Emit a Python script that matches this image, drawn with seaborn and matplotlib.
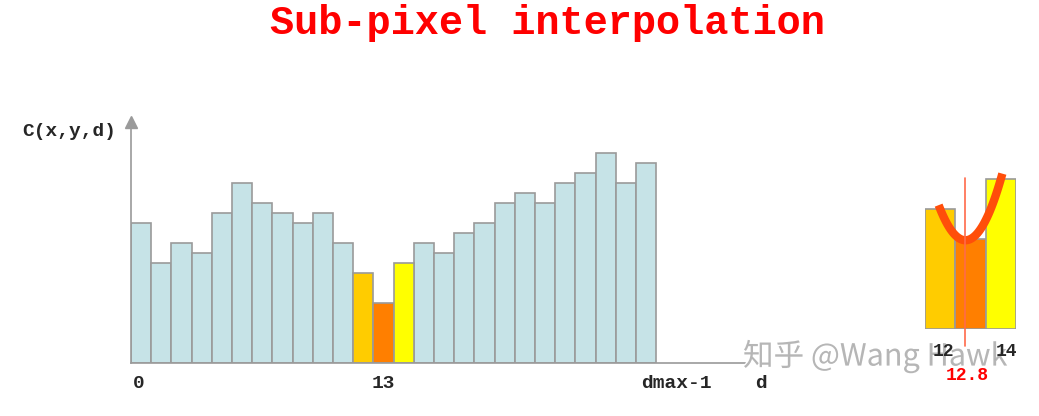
import numpy as np
import pandas as pd
import matplotlib
matplotlib.use('Agg')
import matplotlib.pyplot as plt
import matplotlib.patheffects as pe
import seaborn as sns

# matching cost per disparity
cost = [14, 10, 12, 11, 15, 18, 16, 15, 14, 15, 12, 9, 6, 10,
        12, 11, 13, 14, 16, 17, 16, 18, 19, 21, 18, 20]
# which bars are highlighted around the minimum
group = ['base'] * 11 + ['left', 'min', 'right'] + ['base'] * 12
# close-up of the three bars at the minimum
zoom_d = ['12', '13', '14']
zoom_cost = [8, 6, 10]
zoom_group = ['left', 'min', 'right']

palette = {'base': '#C6E3E7', 'left': '#FFCC00', 'min': '#FF7F00', 'right': '#FFFF00'}
edge = '#9A9A9A'
mono = 'Liberation Mono'

W, H = 1039, 416
fig = plt.figure(figsize=(W / 100, H / 100), dpi=100)
sns.set_style('white')
plt.rcParams['font.family'] = ['DejaVu Sans']


def box(x0, y0, x1, y1):
    # pixel box -> figure fraction
    return [x0 / W, 1 - y1 / H, (x1 - x0) / W, (y1 - y0) / H]


# main cost curve
ax = fig.add_axes(box(131, 122, 745, 363))
df = pd.DataFrame({'d': range(len(cost)), 'cost': cost, 'group': group})
sns.barplot(data=df, x='d', y='cost', hue='group', palette=palette, dodge=False,
            width=1, saturation=1, edgecolor=edge, linewidth=1.2, legend=False, ax=ax)
ax.set_xlim(-0.5, 29.9)
ax.set_ylim(0, 24.1)
ax.set_xticks([])
ax.set_yticks([])
ax.set_xlabel('')
ax.set_ylabel('')
ax.patch.set_alpha(0)
for s in ['top', 'right']:
    ax.spines[s].set_visible(False)
for s in ['left', 'bottom']:
    ax.spines[s].set_color(edge)
    ax.spines[s].set_linewidth(1.2)
ax.plot(0, 1, marker='^', color=edge, markersize=8, transform=ax.transAxes,
        clip_on=False)

lab = dict(fontfamily=mono, fontweight='bold', fontsize=14, ha='center', va='center')
ax.text(-0.1, -2.0, '0', **lab)
ax.text(12, -2.0, '13', **lab)
ax.text(26.5, -2.0, 'dmax-1', **lab)
ax.text(30.7, -2.0, 'd', **lab)

# close-up with fitted parabola
ax2 = fig.add_axes(box(925, 170, 1016, 329))
ax2.set_zorder(20)
zdf = pd.DataFrame({'d': zoom_d, 'cost': zoom_cost, 'group': zoom_group})
sns.barplot(data=zdf, x='d', y='cost', hue='group', palette=palette, dodge=False,
            width=1, saturation=1, edgecolor=edge, linewidth=1.2, legend=False, ax=ax2)
ax2.set_xlim(-0.5, 2.5)
ax2.set_ylim(0, 10.6)
ax2.axis('off')

a, b, c = np.polyfit([0, 1, 2], zoom_cost, 2)
xv = -b / (2 * a)
xs = np.linspace(-0.05, 2.05, 60)
sns.lineplot(x=xs, y=np.polyval([a, b, c], xs), color='#FF4E0A', linewidth=6,
             ax=ax2, clip_on=False, solid_capstyle='butt')
ax2.plot([xv, xv], [-1.1, 10.1], color='#FF6A4A', linewidth=1.2, clip_on=False)
ax2.text(0.1, -1.5, '12', fontfamily=mono, fontweight='bold', fontsize=13,
         ha='center', va='center')
ax2.text(2.2, -1.5, '14', fontfamily=mono, fontweight='bold', fontsize=13,
         ha='center', va='center')
ax2.text(xv + 0.05, -3.1, f'{int(zoom_d[0]) + xv:.1f}', fontfamily=mono,
         fontweight='bold', fontsize=13, color='#FF0000', ha='center', va='center')

# titles
fig.text(547 / W, 1 - 23 / H, 'Sub-pixel interpolation', fontfamily=mono,
         fontweight='bold', fontsize=29, color='#FF0000', ha='center', va='center')
fig.text(69 / W, 1 - 131 / H, 'C(x,y,d)', fontfamily=mono, fontweight='bold',
         fontsize=14, ha='center', va='center')

# watermark
fig.text(743 / W, 1 - 356 / H, '知乎 @Wang Hawk', family=['Noto Sans CJK SC', 'DejaVu Sans'],
         fontsize=22, color='#ABABAB', alpha=0.85, ha='left', va='center', zorder=5,
         path_effects=[pe.withStroke(linewidth=2, foreground='white')])

fig.savefig('out.png', dpi=100, facecolor='white')
